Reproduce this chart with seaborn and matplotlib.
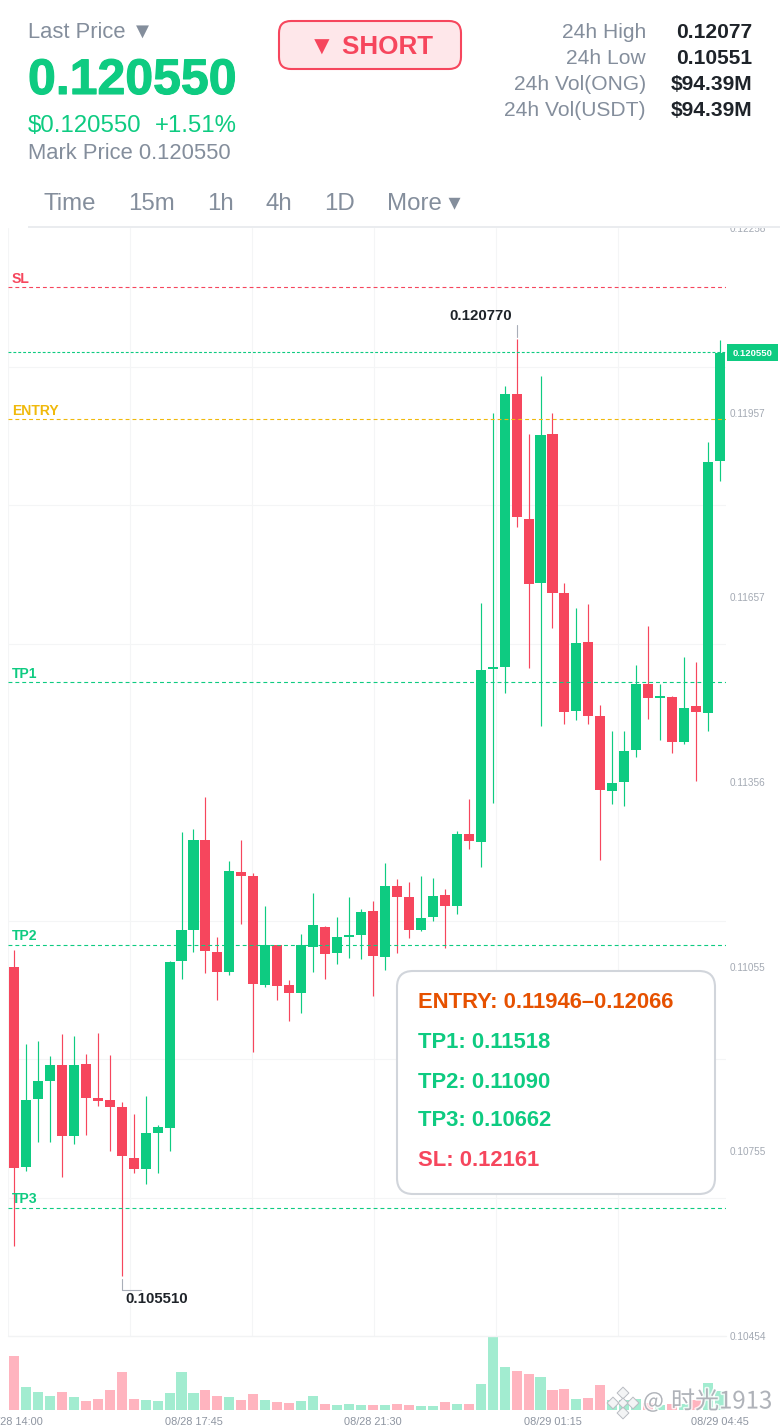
import numpy as np
import pandas as pd
import matplotlib.pyplot as plt
import matplotlib.patheffects as pe
from matplotlib.patches import FancyBboxPatch, Rectangle
from matplotlib.transforms import ScaledTranslation
import seaborn as sns

# candle data (15m candles)
opens = [0.11055, 0.10729, 0.10840, 0.10869, 0.10895, 0.10780, 0.10897, 0.10842, 0.10838, 0.10827,
         0.10744, 0.10726, 0.10785, 0.10793, 0.11065, 0.11115, 0.11262, 0.11079, 0.11047, 0.11209,
         0.11203, 0.11025, 0.11091, 0.11025, 0.11012, 0.11087, 0.11120, 0.11078, 0.11104, 0.11107,
         0.11146, 0.11071, 0.11187, 0.11169, 0.11115, 0.11136, 0.11172, 0.11154, 0.11271, 0.11258,
         0.11540, 0.11543, 0.11988, 0.11784, 0.11680, 0.11923, 0.11664, 0.11472, 0.11584, 0.11463,
         0.11341, 0.11356, 0.11408, 0.11516, 0.11493, 0.11494, 0.11421, 0.11480, 0.11468, 0.11879]
highs = [0.11083, 0.10929, 0.10934, 0.10910, 0.10946, 0.10942, 0.10913, 0.10947, 0.10912, 0.10835,
         0.10815, 0.10845, 0.10798, 0.11065, 0.11275, 0.11279, 0.11332, 0.11104, 0.11227, 0.11262,
         0.11208, 0.11154, 0.11091, 0.11034, 0.11109, 0.11175, 0.11122, 0.11136, 0.11169, 0.11149,
         0.11162, 0.11224, 0.11198, 0.11193, 0.11203, 0.11200, 0.11182, 0.11276, 0.11328, 0.11647,
         0.11957, 0.12001, 0.12077, 0.11923, 0.12017, 0.11957, 0.11680, 0.11639, 0.11646, 0.11481,
         0.11439, 0.11439, 0.11547, 0.11610, 0.11516, 0.11496, 0.11560, 0.11551, 0.11910, 0.12076]
lows = [0.10601, 0.10723, 0.10770, 0.10770, 0.10713, 0.10767, 0.10781, 0.10828, 0.10755, 0.10551,
        0.10719, 0.10701, 0.10719, 0.10755, 0.11035, 0.11079, 0.11045, 0.11001, 0.11042, 0.11125,
        0.10916, 0.11022, 0.11001, 0.10967, 0.10980, 0.11047, 0.11035, 0.11060, 0.11069, 0.11068,
        0.11008, 0.11050, 0.11078, 0.11102, 0.11113, 0.11130, 0.11086, 0.11141, 0.11247, 0.11218,
        0.11322, 0.11501, 0.11771, 0.11542, 0.11447, 0.11607, 0.11450, 0.11457, 0.11450, 0.11229,
        0.11320, 0.11317, 0.11397, 0.11459, 0.11424, 0.11403, 0.11418, 0.11358, 0.11439, 0.11846]
closes = [0.10728, 0.10838, 0.10869, 0.10895, 0.10780, 0.10895, 0.10842, 0.10837, 0.10827, 0.10747,
          0.10726, 0.10785, 0.10794, 0.11063, 0.11115, 0.11262, 0.11081, 0.11047, 0.11211, 0.11203,
          0.11027, 0.11091, 0.11024, 0.11012, 0.11091, 0.11123, 0.11076, 0.11104, 0.11107, 0.11144,
          0.11073, 0.11187, 0.11169, 0.11115, 0.11135, 0.11170, 0.11154, 0.11271, 0.11260, 0.11538,
          0.11543, 0.11988, 0.11787, 0.11678, 0.11921, 0.11664, 0.11470, 0.11582, 0.11463, 0.11343,
          0.11354, 0.11406, 0.11516, 0.11493, 0.11496, 0.11421, 0.11477, 0.11470, 0.11877, 0.12055]
volumes = [54, 23, 18, 13.7, 18, 12.7, 9, 10.7, 20, 37.7,
           10.7, 10, 9, 17, 38.3, 17, 19.7, 13.7, 13, 10,
           16, 9.7, 8, 6.7, 8.7, 13.7, 5.7, 5, 6.3, 5,
           5, 4.7, 6, 5, 4, 4.3, 7.7, 6, 6.3, 26,
           74, 43, 39.3, 36, 32.7, 19.7, 21, 11.3, 12, 24.7,
           10, 10, 10.7, 6.7, 5, 6, 6, 10, 26.7, 19]

price_ticks = [0.10454, 0.10755, 0.11055, 0.11356, 0.11657, 0.11957, 0.12258]
date_idx = [0, 15, 30, 45, 59]
date_labels = ['08/28 14:00', '08/28 17:45', '08/28 21:30', '08/29 01:15', '08/29 04:45']

level_names = ['SL', 'ENTRY', 'TP1', 'TP2', 'TP3']
level_prices = [0.12161, 0.11946, 0.11518, 0.11090, 0.10662]
last_price = 0.12055
high_mark = 0.12077
low_mark = 0.10551

GREEN = '#0ECB81'
RED = '#F6465D'
GOLD = '#F0B90B'
GRAY = '#848E9C'
DARK = '#1E2329'
level_colors = [RED, GOLD, GREEN, GREEN, GREEN]

W, H = 780, 1428


def fs(px):
    # font px -> pt at dpi 100
    return px * 0.72


def axes_px(left, top, right, bottom):
    return [left / W, 1 - bottom / H, (right - left) / W, (bottom - top) / H]


sns.set_theme(style='white')
plt.rcParams['font.family'] = ['Liberation Sans', 'DejaVu Sans']

df = pd.DataFrame({'idx': range(len(opens)), 'open': opens, 'high': highs,
                   'low': lows, 'close': closes, 'volume': volumes})
df['side'] = np.where(df['close'] >= df['open'], 'up', 'down')
df['body'] = (df['close'] - df['open']).abs()
df['bottom'] = df[['open', 'close']].min(axis=1)

fig = plt.figure(figsize=(W / 100, H / 100), dpi=100, facecolor='white')
ax = fig.add_axes(axes_px(8, 228, 726, 1336))
ax_vol = fig.add_axes(axes_px(8, 1336, 726, 1410))

# candles
ax.vlines(df['idx'], df['low'], df['high'],
          colors=df['side'].map({'up': GREEN, 'down': RED}), linewidth=0.85, zorder=2)
for side, col in [('up', GREEN), ('down', RED)]:
    part = df[df['side'] == side]
    sns.barplot(data=part, x='idx', y='body', bottom=part['bottom'].to_numpy(), native_scale=True,
                color=col, saturation=1, width=0.84, linewidth=0, errorbar=None, ax=ax, zorder=3)

ax.set_xlim(-0.5, 59.5)
ax.set_ylim(price_ticks[0], price_ticks[-1])
ax.set_xlabel('')
ax.set_ylabel('')
ax.set_xticks(np.arange(-0.5, 60, 10.19))
ax.set_xticklabels([])
ax.yaxis.tick_right()
ax.set_yticks(price_ticks)
ax.set_yticklabels(['%.5f' % p for p in price_ticks])
ax.set_yticks(np.linspace(price_ticks[0], price_ticks[-1], 9), minor=True)
ax.tick_params(axis='both', which='both', length=0)
ax.tick_params(axis='y', which='major', labelsize=fs(10), labelcolor='#A3A9B3', pad=2.3)
ax.grid(True, axis='x', color='#F4F5F6', linewidth=0.75, zorder=0)
ax.grid(True, axis='y', which='minor', color='#F4F5F6', linewidth=0.75, zorder=0)
ax.grid(False, axis='y', which='major')
ax.set_axisbelow(True)
sns.despine(ax=ax, left=True, right=True, top=True, bottom=True)

# level lines, half a pixel up so the snapped row matches
nudge = ScaledTranslation(0, 0.5 / 100, fig.dpi_scale_trans)
line_trans = ax.get_yaxis_transform() + nudge
for name, price, col in zip(level_names, level_prices, level_colors):
    ax.plot([0, 1], [price, price], transform=line_trans, color=col, linewidth=0.8,
            linestyle=(0, (3.5, 2.7)), zorder=4)
    ax.annotate(name, xy=(0, price), xycoords=ax.get_yaxis_transform(), xytext=(4, 9),
                textcoords='offset pixels', fontsize=fs(14), fontweight='bold', color=col,
                va='center', ha='left', zorder=5)
ax.plot([0, 1], [last_price, last_price], transform=line_trans, color=GREEN, linewidth=0.8,
        linestyle=(0, (2.6, 1.8)), zorder=4)
ax.set_ylim(price_ticks[0], price_ticks[-1])

# high / low marks
ax.annotate('%.6f' % high_mark, xy=(42, high_mark), xytext=(-36, 23),
            textcoords='offset pixels', fontsize=fs(15), fontweight='bold', color=DARK,
            va='center', ha='center', annotation_clip=False)
ax.annotate('%.6f' % low_mark, xy=(9, low_mark), xytext=(35, -23),
            textcoords='offset pixels', fontsize=fs(15), fontweight='bold', color=DARK,
            va='center', ha='center', annotation_clip=False)

# volume panel
sns.barplot(data=df, x='idx', y='volume', hue='side', palette={'up': '#A2ECD0', 'down': '#FFB4BF'},
            native_scale=True, dodge=False, saturation=1, width=0.84, linewidth=0,
            errorbar=None, legend=False, ax=ax_vol)
ax_vol.set_xlim(-0.5, 59.5)
ax_vol.set_ylim(0, max(volumes))
ax_vol.set_xlabel('')
ax_vol.set_ylabel('')
ax_vol.set_yticks([])
ax_vol.set_xticks(date_idx)
ax_vol.set_xticklabels(date_labels)
ax_vol.tick_params(axis='x', length=0, labelsize=fs(11), labelcolor='#8E95A1', pad=5.2)
sns.despine(ax=ax_vol, left=True, right=True, top=True, bottom=True)

# overlay in pixel coordinates for the page furniture
ov = fig.add_axes([0, 0, 1, 1], zorder=10)
ov.set_xlim(0, W)
ov.set_ylim(H, 0)
ov.axis('off')
ov.patch.set_alpha(0)

ov.add_patch(Rectangle((0, 0), W, 228, color='white', linewidth=0))
ov.add_patch(Rectangle((28, 225.5), W - 28, 2.2, color='#EAECEF', linewidth=0))
ov.plot([8, 726], [1336, 1336], color='#F2F3F4', linewidth=1.0, zorder=1)


def label(x, y, s, px, color=GRAY, weight='normal', ha='left'):
    return ov.text(x, y - 1, s, fontsize=fs(px), color=color, fontweight=weight, ha=ha, va='center_baseline')


label(28, 31, 'Last Price ▼', 22)
big = label(28, 77, '0.120550', 50, GREEN, 'bold')
big.set_path_effects([pe.withStroke(linewidth=0.8, foreground=GREEN)])
label(28, 124, '$0.120550', 24, GREEN)
label(155, 124, '+1.51%', 24, GREEN)
label(28, 152, 'Mark Price 0.120550', 22)

ov.add_patch(FancyBboxPatch((291, 33), 158, 24, boxstyle='round,pad=12,rounding_size=12',
                            facecolor='#FEE7EA', edgecolor=RED, linewidth=1.5))
label(371, 45, '▼ SHORT', 26, RED, 'bold', 'center')

stat_names = ['24h High', '24h Low', '24h Vol(ONG)', '24h Vol(USDT)']
stat_values = ['0.12077', '0.10551', '$94.39M', '$94.39M']
for y, n, v in zip([31, 57, 83, 109], stat_names, stat_values):
    label(646, y, n, 21, ha='right')
    label(752, y, v, 21, DARK, 'bold', 'right')

for x, s in zip([44, 128, 207, 266, 324, 387], ['Time', '15m', '1h', '4h', '1D', 'More ▾']):
    label(x, 203, s, 24)

# last price tag
ov.add_patch(Rectangle((727, 344), 51, 17, color=GREEN, linewidth=0))
label(752.5, 353.5, '0.120550', 9.5, 'white', 'bold', 'center')

# connectors of the high / low marks
ov.plot([517, 517], [325, 337], color='#A9AEB8', linewidth=0.8)
ov.plot([121.5, 121.5, 141], [1279, 1290, 1290], color='#A9AEB8', linewidth=0.8)

# signal box
ov.add_patch(FancyBboxPatch((413, 987), 286, 191, boxstyle='round,pad=16,rounding_size=16',
                            facecolor='white', edgecolor='#D1D5DB', linewidth=1.5))
box_rows = [(1001, 'ENTRY: 0.11946–0.12066', '#E65100'), (1041, 'TP1: 0.11518', GREEN),
            (1081, 'TP2: 0.11090', GREEN), (1119, 'TP3: 0.10662', GREEN), (1159, 'SL: 0.12161', RED)]
for y, s, col in box_rows:
    label(418, y, s, 22, col, 'bold')

# watermark
halo = [pe.withStroke(linewidth=2.2, foreground='white', alpha=0.8)]
ov.scatter([623, 613, 633, 623, 623], [1393, 1403, 1403, 1413, 1403], marker='D',
           s=[36, 36, 36, 36, 26], facecolor='#F3F4F5', edgecolor='#B8BCC2', linewidth=0.7, zorder=6)
ov.text(643, 1402, '@', fontsize=fs(22), color='#A4A8AF', alpha=0.85, ha='left', va='center',
        family=['Noto Sans CJK SC', 'DejaVu Sans'], path_effects=halo, zorder=6)
ov.text(671, 1402, '时光1913', fontsize=fs(24), color='#A4A8AF', alpha=0.85, ha='left', va='center',
        family=['Noto Sans CJK SC', 'DejaVu Sans'], path_effects=halo, zorder=6)

fig.savefig('out.png', dpi=100, facecolor='white')
